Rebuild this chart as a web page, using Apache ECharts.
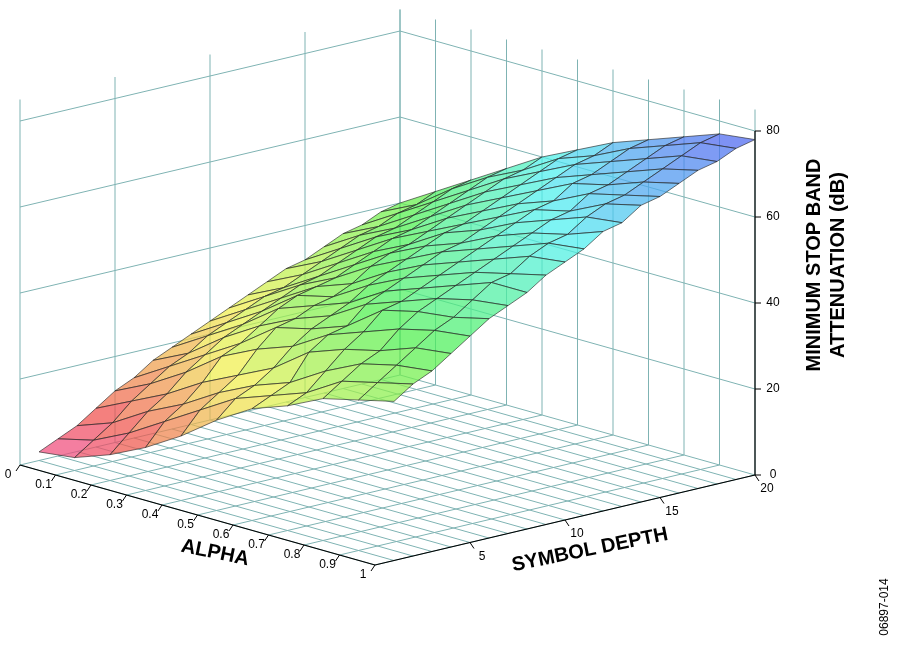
<!DOCTYPE html>
<html><head><meta charset="utf-8">
<script src="https://cdn.jsdelivr.net/npm/echarts@6/dist/echarts.min.js"></script>
<style>html,body{margin:0;background:#fff}#c{width:900px;height:660px}</style></head>
<body><div id="c"></div>
<script>
const alphaVals=[0,0.1,0.2,0.3,0.4,0.5,0.6,0.7,0.8,0.9,1];
const alphaLabels=['0','0.1','0.2','0.3','0.4','0.5','0.6','0.7','0.8','0.9','1'];
const depthVals=[1,2,3,4,5,6,7,8,9,10,11,12,13,14,15,16,17,18,19,20];
const depthLabels=['5','10','15','20'];
const zLabels=['0','20','40','60','80'];
// attenuation (dB), one row per symbol depth, columns = alpha 0..1
const atten=[
[2,3,6,10,15,21,26,29,33,35,37],
[4,6,10,15,20,25,28,31,36,38,40],
[6,9,14,18,23,27,30,35,39,41,42],
[9,13,17,22,26,30,36,39,41,44,45],
[12,16,21,27,31,34,39,42,45,47,48],
[14,19,24,29,35,37,40,46,48,49,51],
[17,21,27,32,36,39,44,47,50,52,53],
[19,24,29,35,38,41,46,49,52,55,55],
[21,26,31,37,39,44,48,51,54,56,58],
[23,28,33,38,41,46,50,53,56,59,60],
[25,30,35,39,44,48,52,55,58,61,62],
[27,31,36,41,46,50,53,57,60,62,65],
[29,33,38,43,47,52,55,59,62,65,66],
[31,35,40,45,49,53,57,61,63,67,69],
[32,37,42,46,51,55,59,62,66,68,70],
[34,39,43,48,53,57,61,65,67,70,72],
[36,40,45,50,55,59,63,66,69,72,74],
[37,42,47,52,57,61,65,68,71,74,75],
[39,43,49,54,58,63,66,70,73,76,77],
[40,45,50,55,60,64,68,71,74,77,78]];

function P(a,d,z){return [20+355*a+19*d, 465+100*a-4.5*d-4.3*z];}
const quads=[];
for(let i=0;i<alphaVals.length-1;i++)for(let j=0;j<depthVals.length-1;j++)quads.push([i,j]);
quads.sort((q1,q2)=>P(alphaVals[q1[0]]+0.05,depthVals[q1[1]]+0.5,0)[1]-P(alphaVals[q2[0]]+0.05,depthVals[q2[1]]+0.5,0)[1]);

const G=[];const gc='#7fb3b3';
function line(p,q,c,w){G.push({type:'line',shape:{x1:p[0],y1:p[1],x2:q[0],y2:q[1]},style:{stroke:c||gc,lineWidth:w||1},silent:true});}
function text(x,y,s,font,rot){G.push({type:'text',x:x,y:y,rotation:rot||0,style:{text:s,fill:'#000',font:font||'12px Arial',align:'center',verticalAlign:'middle',lineHeight:24}});}
// floor grid
for(const a of alphaVals)line(P(a,0,0),P(a,20,0));
for(let d=0;d<=20;d++)line(P(0,d,0),P(1,d,0));
// left wall (alpha=0)
for(const d of [0,5,10,15,20])line(P(0,d,0),P(0,d,85));
for(const z of [20,40,60,80])line(P(0,0,z),P(0,20,z));
// back wall (depth=20)
for(const a of alphaVals)line(P(a,20,0),P(a,20,85));
for(const z of [20,40,60,80])line(P(0,20,z),P(1,20,z));
// axes
line(P(0,0,0),P(1,0,0),'#000',1.2);
line(P(1,0,0),P(1,20,0),'#000',1.2);
line(P(1,20,0),P(1,20,80),'#000',1.2);
alphaVals.forEach((a,k)=>{const p=P(a,0,0);line(p,[p[0]-4,p[1]+6],'#000');text(p[0]-12,p[1]+10,alphaLabels[k]);});
depthLabels.forEach(s=>{const p=P(1,+s,0);line(p,[p[0]+4,p[1]+6],'#000');text(p[0]+12,p[1]+14,s);});
zLabels.forEach(s=>{const p=P(1,20,+s);line(p,[p[0]+6,p[1]],'#000');text(p[0]+18,p[1],s);});
text(215,553,'ALPHA','bold 20px Arial',-0.2);
text(590,550,'SYMBOL DEPTH','bold 20px Arial',0.2);
text(826,265,'MINIMUM STOP BAND\nATTENUATION (dB)','bold 20px Arial',Math.PI/2);
text(885,607,'06897-014','12px Arial',Math.PI/2);

const chart=echarts.init(document.getElementById('c'));
chart.setOption({animation:false,graphic:{elements:G},
series:[{type:'custom',coordinateSystem:'none',z:10,data:quads,
renderItem:function(params,api){
 const i=api.value(0),j=api.value(1);
 const c=[[i,j],[i+1,j],[i+1,j+1],[i,j+1]];
 let s=0;const pts=c.map(([a,b])=>{const z=atten[b][a];s+=z;return P(alphaVals[a],depthVals[b],z);});
 const avg=s/4;const h=(330+avg/80*270)%360;
 return {type:'polygon',shape:{points:pts},style:{fill:'hsla('+h+',85%,62%,0.72)',stroke:'rgba(40,40,40,0.8)',lineWidth:0.8}};
}}]});
</script></body></html>
